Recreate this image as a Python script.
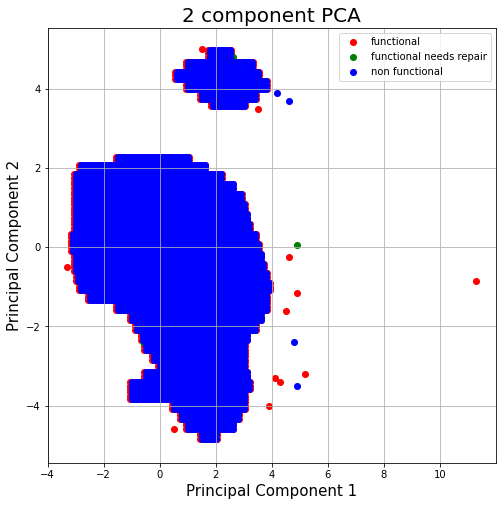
import numpy as np, pandas as pd, matplotlib
matplotlib.use("Agg")
import matplotlib.pyplot as plt, seaborn as sns

targets = ["functional", "functional needs repair", "non functional"]
colors = ["r", "g", "b"]
# spans: (y, xmin, xmax) of the dense blue region
blue_spans = [(2.2,-1.5,1.0),(2.0,-2.8,1.6),(1.75,-3.0,2.2),(1.5,-3.0,2.6),(1.25,-3.0,2.9),(1.0,-3.0,3.0),
              (0.75,-3.0,3.1),(0.5,-3.0,3.2),(0.25,-3.1,3.4),(0.0,-3.1,3.5),(-0.25,-3.0,3.6),(-0.5,-3.0,3.7),
              (-0.75,-2.9,3.8),(-1.0,-2.8,3.9),(-1.25,-2.5,3.8),(-1.5,-1.5,3.8),(-1.75,-1.0,3.6),(-2.0,-0.8,3.4),
              (-2.25,-0.6,3.1),(-2.5,-0.5,3.0),(-2.75,-0.2,3.0),(-3.0,0.0,3.0),(-3.25,-0.5,3.1),(-3.5,-1.0,3.2),
              (-3.75,-1.0,3.0),(-4.0,0.5,3.0),(-4.25,0.8,2.8),(-4.5,1.0,2.6),(-4.75,1.5,2.0),
              (4.9,1.8,2.5),(4.6,1.0,3.3),(4.35,0.6,3.5),(4.1,1.0,3.8),(3.85,1.5,3.4),(3.65,1.9,3.0)]
red_extra_x = [11.3, 5.2, 4.9, 4.5, 4.6, 4.3, 4.1, 1.5, 3.5, -3.3, 0.5, 3.9]
red_extra_y = [-0.85, -3.2, -1.15, -1.6, -0.25, -3.4, -3.3, 5.0, 3.5, -0.5, -4.6, -4.0]
green_x = [4.9, -2.2, -0.6, 2.0, 3.5, 2.6, 0.9, 1.6]
green_y = [0.05, 1.6, -2.4, -3.7, -0.2, 4.8, 4.4, 4.5]
blue_extra_x = [4.8, 4.9, 4.6, 4.2]
blue_extra_y = [-2.4, -3.5, 3.7, 3.9]

def fill(spans, pad):
    xs, ys = [], []
    for y, a, b in spans:
        for dy in (-0.09, 0.0, 0.09):
            for x in np.arange(a - pad, b + pad + 1e-9, 0.1):
                xs.append(x); ys.append(y + dy)
    return xs, ys

rx, ry = fill(blue_spans, 0.07)
bx, by = fill(blue_spans, 0.0)
df = pd.DataFrame({
    "x": rx + red_extra_x + green_x + bx + blue_extra_x,
    "y": ry + red_extra_y + green_y + by + blue_extra_y,
    "t": [targets[0]]*(len(rx)+len(red_extra_x)) + [targets[1]]*len(green_x) + [targets[2]]*(len(bx)+len(blue_extra_x)),
})

fig = plt.figure(figsize=(6.96, 7.03), dpi=72)
ax = fig.add_axes([0.095, 0.085, 0.895, 0.86])
for t, c in zip(targets, colors):
    d = df[df.t == t]
    sns.scatterplot(x=d.x, y=d.y, color=c, s=50, linewidth=0, ax=ax, label=t)
ax.set_xlim(-4, 12); ax.set_ylim(-5.45, 5.55)
ax.set_xticks(range(-4, 12, 2))
ax.set_xlabel("Principal Component 1", fontsize=15)
ax.set_ylabel("Principal Component 2", fontsize=15)
ax.set_title("2 component PCA", fontsize=20)
ax.grid(True)
ax.legend(loc="upper right")
fig.savefig("out.png", dpi=72)
